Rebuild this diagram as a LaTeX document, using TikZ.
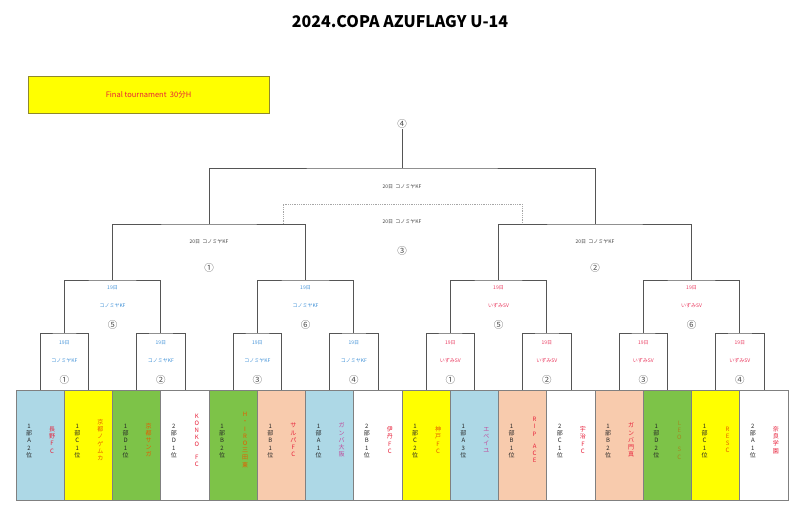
\documentclass[tikz,border=0pt]{standalone}
\usepackage{fontspec}
\setmainfont{Noto Sans CJK JP}
\usetikzlibrary{positioning}
\definecolor{tblue}{HTML}{ADD8E6}
\definecolor{tyellow}{HTML}{FFFF00}
\definecolor{tgreen}{HTML}{7DC348}
\definecolor{tpeach}{HTML}{F8CBAD}
\definecolor{lblue}{HTML}{3D8FD6}
\definecolor{lred}{HTML}{E8345A}
\definecolor{nred}{HTML}{E8203A}
\definecolor{norange}{HTML}{E65A00}
\definecolor{nolive}{HTML}{A08A20}
\definecolor{npurple}{HTML}{C04A9A}
\definecolor{lineg}{HTML}{555555}

\tikzset{
	team/.style={draw=gray, line width=0.9pt, minimum width=48.25pt, minimum height=110pt, inner sep=0pt, anchor=north},
	vtxt/.style={align=center, inner sep=0pt, font=\fontsize{6}{7.2}\selectfont},
	small/.style={inner sep=0pt, font=\fontsize{5}{6}\selectfont},
	circ/.style={inner sep=0pt, text=black!70, font=\fontsize{9.5}{10}\selectfont},
	bracket/.style={draw=lineg, line width=0.8pt},
}

% team box: index, x, fill, rank, name, name colour
\newcommand\team[6]{%
	\node[team, fill=#3] (t#1) at (#2,390) {};
	\node[vtxt, text=black!85] (r#1) at (#2-11,441) {#4};
	\node[vtxt, text=#6] (n#1) at (#2+12,440) {#5};
}
% match labels: id, x, top y, colour, date, venue, number
\newcommand\match[7]{%
	\node[small, text=#4] (d#1) at (#2,#3) {#5};
	\node[small, text=#4] (v#1) at (#2,#3+18) {#6};
	\node[circ] (c#1) at (#2,#3+37) {#7};
}

\begin{document}
\begin{tikzpicture}[x=1pt, y=-1pt]
		\useasboundingbox (0,0) rectangle (800,518);

		\node[font=\bfseries\fontsize{16}{18}\selectfont] (title) at (400,22) {2024.COPA AZUFLAGY U-14};
		\node[draw=olive!70!gray, line width=0.8pt, fill=tyellow, minimum width=241pt, minimum height=37pt,
			text=nred, font=\fontsize{7.5}{9}\selectfont] (info) at (148.5,94.5) {Final tournament\ \ 30分H\hspace{4pt}};

		% teams
		\team{1}{40.1}{tblue}{1\\部\\A\\2\\位}{長\\野\\F\\C}{nred}
		\team{2}{88.4}{tyellow}{1\\部\\C\\1\\位}{京\\都\\ノ\\ゲ\\ム\\カ}{norange}
		\team{3}{136.6}{tgreen}{1\\部\\D\\1\\位}{京\\都\\サ\\ン\\ガ}{norange}
		\team{4}{184.9}{white}{2\\部\\D\\1\\位}{K\\O\\N\\K\\O\\[5pt]F\\C}{nred}
		\team{5}{233.1}{tgreen}{1\\部\\B\\2\\位}{H\\・\\I\\R\\O\\三\\田\\東}{norange}
		\team{6}{281.4}{tpeach}{1\\部\\B\\1\\位}{サ\\ル\\パ\\F\\C}{nred}
		\team{7}{329.6}{tblue}{1\\部\\A\\1\\位}{ガ\\ン\\バ\\大\\阪}{npurple}
		\team{8}{377.9}{white}{2\\部\\B\\1\\位}{伊\\丹\\F\\C}{nred}
		\team{9}{426.1}{tyellow}{1\\部\\C\\2\\位}{神\\戸\\F\\C}{norange}
		\team{10}{474.4}{tblue}{1\\部\\A\\3\\位}{エ\\ベ\\イ\\ユ}{npurple}
		\team{11}{522.6}{tpeach}{1\\部\\B\\1\\位}{R\\I\\P\\[5pt]A\\C\\E}{nred}
		\team{12}{570.9}{white}{2\\部\\C\\1\\位}{宇\\治\\F\\C}{nred}
		\team{13}{619.1}{tpeach}{1\\部\\B\\2\\位}{ガ\\ン\\バ\\門\\真}{nred}
		\team{14}{667.4}{tgreen}{1\\部\\D\\2\\位}{L\\E\\O\\[5pt]S\\C}{nolive}
		\team{15}{715.6}{tyellow}{1\\部\\C\\1\\位}{R\\E\\S\\C}{norange}
		\team{16}{763.9}{white}{2\\部\\A\\1\\位}{奈\\良\\学\\園}{nred}

		% bracket corners
		\coordinate (m1) at (64.3,333);
		\coordinate (m2) at (160.8,333);
		\coordinate (m3) at (257.3,333);
		\coordinate (m4) at (353.8,333);
		\coordinate (m5) at (450.3,333);
		\coordinate (m6) at (546.8,333);
		\coordinate (m7) at (643.3,333);
		\coordinate (m8) at (739.8,333);
		\coordinate (q1) at (112.5,280);
		\coordinate (q2) at (305.5,280);
		\coordinate (q3) at (498.5,280);
		\coordinate (q4) at (691.5,280);
		\coordinate (s1) at (209,224);
		\coordinate (s2) at (595,224);
		\coordinate (f) at (402,168);
		\coordinate (b3l) at (283,224);
		\coordinate (b3) at (402,204);
		\coordinate (b3r) at (522,224);

		% labels
		\match{1}{64.3}{343}{lblue}{19日}{コノミヤKF}{①}
		\match{2}{160.8}{343}{lblue}{19日}{コノミヤKF}{②}
		\match{3}{257.3}{343}{lblue}{19日}{コノミヤKF}{③}
		\match{4}{353.8}{343}{lblue}{19日}{コノミヤKF}{④}
		\match{5}{450.3}{343}{lred}{19日}{いずみSV}{①}
		\match{6}{546.8}{343}{lred}{19日}{いずみSV}{②}
		\match{7}{643.3}{343}{lred}{19日}{いずみSV}{③}
		\match{8}{739.8}{343}{lred}{19日}{いずみSV}{④}
		\match{9}{112.5}{288}{lblue}{19日}{コノミヤKF}{⑤}
		\match{10}{305.5}{288}{lblue}{19日}{コノミヤKF}{⑥}
		\match{11}{498.5}{288}{lred}{19日}{いずみSV}{⑤}
		\match{12}{691.5}{288}{lred}{19日}{いずみSV}{⑥}
		\node[small, text=black!75] (v13) at (209,242) {20日\ \ コノミヤKF};
		\node[circ] (c13) at (209,268) {①};
		\node[small, text=black!75] (v14) at (595,242) {20日\ \ コノミヤKF};
		\node[circ] (c14) at (595,268) {②};
		\node[small, text=black!75] (v15) at (402,222) {20日\ \ コノミヤKF};
		\node[circ] (c15) at (402,251) {③};
		\node[small, text=black!75] (v16) at (402,187) {20日\ \ コノミヤKF};
		\node[circ] (champ) at (402,124) {④};

		% round of 16
		\draw[bracket] (t1.north) |- (m1) -| (t2.north);
		\draw[bracket] (t3.north) |- (m2) -| (t4.north);
		\draw[bracket] (t5.north) |- (m3) -| (t6.north);
		\draw[bracket] (t7.north) |- (m4) -| (t8.north);
		\draw[bracket] (t9.north) |- (m5) -| (t10.north);
		\draw[bracket] (t11.north) |- (m6) -| (t12.north);
		\draw[bracket] (t13.north) |- (m7) -| (t14.north);
		\draw[bracket] (t15.north) |- (m8) -| (t16.north);
		% quarter, semi, final
		\draw[bracket] (m1) |- (q1) -| (m2);
		\draw[bracket] (m3) |- (q2) -| (m4);
		\draw[bracket] (m5) |- (q3) -| (m6);
		\draw[bracket] (m7) |- (q4) -| (m8);
		\draw[bracket] (q1) |- (s1) -| (q2);
		\draw[bracket] (q3) |- (s2) -| (q4);
		\draw[bracket] (s1) |- (f) -| (s2);
		\draw[bracket] (f) -- (champ.south);
		\draw[bracket, draw=gray!70, densely dotted] (b3l) |- (b3) -| (b3r);
	\end{tikzpicture}
\end{document}
